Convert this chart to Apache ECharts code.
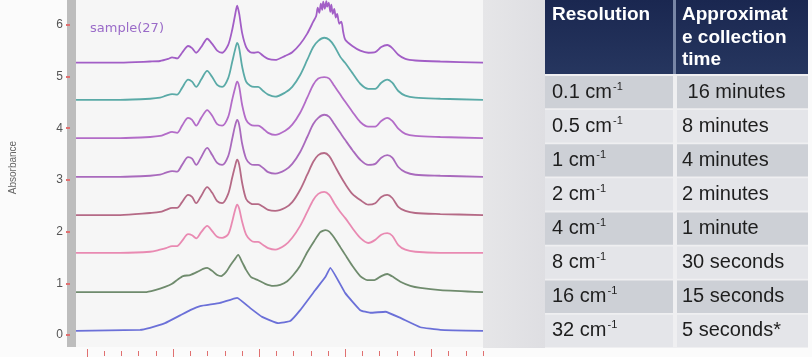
<!DOCTYPE html>
<html><head><meta charset="utf-8">
<script src="https://cdn.jsdelivr.net/npm/echarts@6/dist/echarts.min.js"></script>
<style>html,body{margin:0;padding:0;background:#fbfbfb;}#c{width:812px;height:357px;}</style>
</head><body><div id="c"></div>
<script>
// ---------- DATA ----------
const sampleLabel = 'sample(27)';
const yAxisTitle = 'Absorbance';
const yMin = 0, yMax = 6.48;
const yTicks = [0, 1, 2, 3, 4, 5, 6];
const xMin = -0.99, xMax = 23;
const xMajorTicks = [0, 5, 10, 15, 20];
const xMinorTicks = [0,1,2,3,4,5,6,7,8,9,10,11,12,13,14,15,16,17,18,19,20,21,22,23];

const tableHeaders = ['Resolution', 'Approximat\ne collection\ntime'];
const resolutionValues = ['0.1', '0.5', '1', '2', '4', '8', '16', '32'];
const resolutionUnit = 'cm';
const resolutionExp = '-1';
const collectionTimes = [' 16 minutes', '8 minutes', '4 minutes', '2 minutes', '1 minute', '30 seconds', '15 seconds', '5 seconds*'];

// top trace (highest resolution, noisy peak)
const traceSample27 = [[-0.64,5.27],[1.92,5.27],[3.66,5.29],[4.24,5.30],[4.71,5.34],[4.94,5.37],[5.23,5.35],[5.52,5.46],[5.87,5.59],[6.10,5.55],[6.34,5.46],[6.63,5.57],[6.98,5.73],[7.27,5.63],[7.56,5.50],[7.85,5.46],[8.20,5.61],[8.43,5.90],[8.60,6.19],[8.72,6.37],[8.84,6.21],[9.01,5.84],[9.24,5.57],[9.48,5.47],[9.71,5.46],[9.94,5.47],[10.23,5.40],[10.52,5.34],[10.93,5.32],[11.51,5.40],[11.92,5.47],[12.38,5.63],[12.79,5.83],[13.14,6.06],[13.31,6.17],[13.40,6.33],[13.49,6.23],[13.58,6.41],[13.66,6.29],[13.72,6.45],[13.81,6.31],[13.90,6.46],[13.95,6.35],[14.04,6.43],[14.13,6.25],[14.19,6.39],[14.27,6.21],[14.36,6.31],[14.45,6.14],[14.53,6.21],[14.65,6.02],[14.77,6.06],[14.88,5.86],[15.00,5.71],[15.41,5.59],[15.87,5.50],[16.34,5.46],[16.74,5.47],[17.09,5.57],[17.44,5.61],[17.73,5.55],[18.08,5.42],[18.49,5.34],[19.07,5.31],[20.52,5.29],[23,5.27]];

// shared x positions for the middle traces
const xShared = [-0.64,1.92,3.66,4.24,4.59,4.94,5.23,5.52,5.87,6.10,6.34,6.63,6.98,7.27,7.56,7.85,8.20,8.43,8.60,8.72,8.84,9.01,9.24,9.48,9.71,9.94,10.23,10.52,10.93,11.51,11.92,12.38,12.79,13.14,13.43,13.78,14.07,14.36,14.71,15.00,15.41,15.87,16.34,16.74,17.09,17.44,17.73,18.08,18.49,19.07,20.52,23];
const trace05 = [4.55,4.55,4.57,4.59,4.63,4.66,4.65,4.78,4.94,4.90,4.80,4.94,5.11,4.99,4.84,4.80,4.97,5.28,5.52,5.65,5.54,5.19,4.90,4.82,4.80,4.80,4.72,4.65,4.61,4.69,4.80,5.03,5.32,5.57,5.69,5.75,5.71,5.59,5.38,5.26,5.07,4.86,4.76,4.76,4.88,4.94,4.88,4.72,4.63,4.59,4.57,4.55];
const trace1 = [3.81,3.81,3.83,3.85,3.89,3.93,3.91,4.05,4.20,4.16,4.05,4.20,4.35,4.24,4.08,4.05,4.22,4.55,4.78,4.90,4.80,4.45,4.16,4.07,4.05,4.05,3.99,3.91,3.87,3.95,4.07,4.30,4.59,4.84,4.96,4.99,4.96,4.82,4.65,4.51,4.32,4.12,4.03,4.03,4.14,4.20,4.14,3.99,3.89,3.85,3.83,3.81];
const trace2 = [3.06,3.06,3.08,3.10,3.14,3.17,3.16,3.29,3.44,3.41,3.29,3.44,3.62,3.48,3.33,3.29,3.46,3.79,4.05,4.16,4.06,3.70,3.41,3.31,3.29,3.29,3.23,3.15,3.12,3.19,3.31,3.54,3.83,4.08,4.20,4.26,4.22,4.08,3.91,3.77,3.58,3.39,3.29,3.31,3.43,3.48,3.43,3.25,3.15,3.10,3.08,3.06];
const trace4 = [2.32,2.32,2.36,2.38,2.42,2.46,2.46,2.57,2.71,2.67,2.55,2.69,2.86,2.75,2.59,2.55,2.73,3.04,3.27,3.39,3.29,2.94,2.63,2.55,2.53,2.53,2.48,2.42,2.40,2.46,2.57,2.81,3.10,3.35,3.48,3.52,3.46,3.29,3.08,2.92,2.73,2.61,2.52,2.55,2.67,2.71,2.65,2.48,2.40,2.36,2.34,2.32];
const trace8 = [1.59,1.59,1.61,1.65,1.68,1.72,1.72,1.82,1.95,1.93,1.87,1.99,2.11,2.01,1.90,1.88,1.95,2.19,2.42,2.52,2.44,2.19,1.94,1.84,1.80,1.80,1.74,1.68,1.65,1.74,1.88,2.11,2.38,2.61,2.73,2.77,2.71,2.55,2.38,2.26,2.07,1.88,1.78,1.84,1.94,1.97,1.92,1.74,1.65,1.61,1.59,1.59];
const trace16 = [[-0.64,0.83],[3.37,0.83],[3.95,0.87],[4.53,0.93],[4.94,0.99],[5.29,1.08],[5.58,1.14],[5.99,1.16],[6.40,1.22],[6.74,1.28],[6.98,1.30],[7.27,1.24],[7.56,1.16],[7.79,1.14],[8.08,1.22],[8.31,1.34],[8.55,1.45],[8.78,1.55],[9.01,1.41],[9.24,1.26],[9.53,1.12],[9.94,1.06],[10.35,0.99],[10.81,0.95],[11.22,0.97],[11.63,1.04],[11.98,1.16],[12.38,1.34],[12.79,1.60],[13.20,1.82],[13.55,1.99],[13.84,2.03],[14.07,2.00],[14.36,1.88],[14.71,1.70],[15.00,1.55],[15.41,1.34],[15.87,1.14],[16.28,1.06],[16.69,1.06],[17.09,1.14],[17.44,1.18],[17.79,1.12],[18.20,1.03],[18.78,0.95],[19.36,0.91],[20.52,0.87],[23,0.83]];
const trace32 = [[-0.64,0.08],[3.08,0.10],[3.66,0.14],[4.53,0.23],[5.41,0.38],[5.99,0.48],[6.57,0.56],[7.73,0.62],[8.72,0.72],[9.48,0.52],[10.17,0.35],[11.10,0.23],[11.80,0.27],[12.38,0.48],[13.26,0.87],[13.84,1.12],[14.13,1.30],[15.00,0.81],[15.87,0.48],[16.45,0.43],[17.33,0.45],[18.20,0.33],[19.36,0.15],[20.52,0.10],[23,0.08]];

// ---------- CHART ----------
const zip = (xs, ys) => ys.map((y, i) => [xs[i], y]);
const seriesDefs = [
  {name: sampleLabel, data: traceSample27, color: '#a25ec6', smooth: 0.25},
  {name: '0.5 cm-1', data: zip(xShared, trace05), color: '#5aaaa7', smooth: 0.3},
  {name: '1 cm-1', data: zip(xShared, trace1), color: '#b36cc8', smooth: 0.3},
  {name: '2 cm-1', data: zip(xShared, trace2), color: '#a96abd', smooth: 0.3},
  {name: '4 cm-1', data: zip(xShared, trace4), color: '#b56a86', smooth: 0.3},
  {name: '8 cm-1', data: zip(xShared, trace8), color: '#e98ab2', smooth: 0.3},
  {name: '16 cm-1', data: trace16, color: '#6f8b6d', smooth: 0.2},
  {name: '32 cm-1', data: trace32, color: '#6b70d8', smooth: 0.1}
];

const FONT = 'Liberation Sans';
const g = [];
// plot background (extends a little below the zero line)
g.push({type: 'rect', z: 0, shape: {x: 76, y: 0, width: 407, height: 347}, style: {fill: '#f6f6f6'}});
// left grey axis bar (above the traces, below the ticks)
g.push({type: 'rect', z: 4, shape: {x: 67, y: 0, width: 9, height: 347}, style: {fill: '#bdbdbd'}});
// grey panel between plot and table
g.push({type: 'rect', z: 0, shape: {x: 483, y: 0, width: 62, height: 348},
  style: {fill: new echarts.graphic.LinearGradient(0, 0, 1, 0, [{offset: 0, color: '#e6e6e8'}, {offset: 1, color: '#dedee2'}])}});
// table background
g.push({type: 'rect', z: 0, shape: {x: 545, y: 0, width: 263, height: 348}, style: {fill: '#efeff1'}});
// header
g.push({type: 'rect', z: 1, shape: {x: 545, y: 0, width: 263, height: 74},
  style: {fill: new echarts.graphic.LinearGradient(0, 0, 0, 1, [{offset: 0, color: '#1a2750'}, {offset: 1, color: '#26365f'}])}});
g.push({type: 'rect', z: 2, shape: {x: 673, y: 0, width: 3, height: 74}, style: {fill: '#7886a6'}});
g.push({type: 'text', z: 3, x: 552, y: 4, style: {text: tableHeaders[0], fill: '#ffffff', font: 'bold 19px "' + FONT + '"', lineHeight: 22.5, verticalAlign: 'top'}});
g.push({type: 'text', z: 3, x: 682, y: 4, style: {text: tableHeaders[1], fill: '#ffffff', font: 'bold 19px "' + FONT + '"', lineHeight: 22.5, verticalAlign: 'top'}});
// body rows
resolutionValues.forEach((v, i) => {
  const top = 76 + i * 34.1;
  const fill = i % 2 === 0 ? '#cdd0d6' : '#e4e5e9';
  g.push({type: 'rect', z: 1, shape: {x: 545, y: top, width: 128, height: 32.3}, style: {fill}});
  g.push({type: 'rect', z: 1, shape: {x: 677, y: top, width: 131, height: 32.3}, style: {fill}});
  g.push({type: 'text', z: 3, x: 552, y: top + 16, style: {
    text: '{n|' + v + ' ' + resolutionUnit + '}{s|' + resolutionExp + '}',
    verticalAlign: 'middle',
    rich: {
      n: {fontSize: 20, fontFamily: FONT, fill: '#1e1e1e', lineHeight: 24},
      s: {fontSize: 11, fontFamily: FONT, fill: '#1e1e1e', verticalAlign: 'top', padding: [1, 0, 0, 1]}
    }
  }});
  g.push({type: 'text', z: 3, x: 682, y: top + 16, style: {text: collectionTimes[i], fill: '#1e1e1e', font: '20px "' + FONT + '"', verticalAlign: 'middle'}});
});

const tickRed = '#e07070';
const option = {
  animation: false,
  backgroundColor: '#fbfbfb',
  grid: {left: 70, right: 329, top: 0, bottom: 22, show: false},
  legend: {data: [sampleLabel], icon: 'none', left: 80, top: 17, itemWidth: 0, itemGap: 0, selectedMode: false,
    textStyle: {color: '#9a6bc8', fontSize: 13, fontFamily: 'DejaVu Sans'}},
  xAxis: [
    {type: 'value', min: xMin, max: xMax, position: 'bottom', offset: 14, axisLine: {show: false, onZero: false}, splitLine: {show: false},
      axisTick: {show: true, length: 8, customValues: xMajorTicks, lineStyle: {color: tickRed, width: 1}},
      axisLabel: {show: false}},
    {type: 'value', min: xMin, max: xMax, position: 'bottom', offset: 16, axisLine: {show: false, onZero: false}, splitLine: {show: false},
      axisTick: {show: true, length: 5, customValues: xMinorTicks, lineStyle: {color: tickRed, width: 1}},
      axisLabel: {show: false}}
  ],
  yAxis: {type: 'value', min: yMin, max: yMax, position: 'left', z: 6,
    name: yAxisTitle, nameLocation: 'middle', nameRotate: 90, nameGap: 52,
    nameTextStyle: {color: '#666', fontSize: 10, fontFamily: FONT},
    axisLine: {show: false, onZero: false}, splitLine: {show: false},
    axisTick: {show: true, length: 4, customValues: yTicks, lineStyle: {color: tickRed, width: 2}},
    axisLabel: {show: true, margin: 7, customValues: yTicks, color: '#555', fontSize: 12, fontFamily: FONT}},
  series: seriesDefs.map(s => ({
    type: 'line', name: s.name, data: s.data, xAxisIndex: 0, showSymbol: false, symbol: 'none',
    smooth: s.smooth, color: s.color, lineStyle: {color: s.color, width: 1.8}, z: 3
  })),
  graphic: {elements: g}
};
const chart = echarts.init(document.getElementById('c'), null, {renderer: 'canvas'});
chart.setOption(option);
</script></body></html>
